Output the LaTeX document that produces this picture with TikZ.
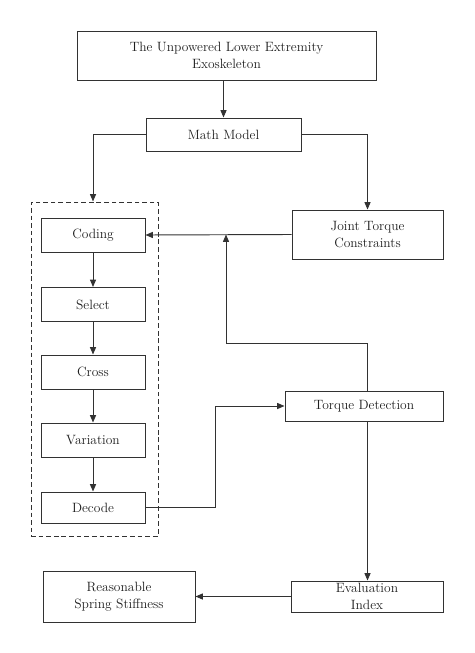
\documentclass[tikz,border=0pt]{standalone}
\usepackage{tikz}
\usetikzlibrary{arrows.meta,positioning,calc}
\definecolor{linegray}{RGB}{50, 50, 50}
\definecolor{textgray}{RGB}{30, 30, 30}
\begin{document}
\begin{tikzpicture}[
    x=0.03cm, y=-0.03cm,
    font=\fontsize{11.5}{14.2}\selectfont,
    block/.style={
      rectangle,
      draw=linegray,
      line width=0.8pt,
      text=textgray,
      align=center,
      inner sep=1pt
    },
    block_step/.style={
      block,
      minimum width=3.12cm,
      minimum height=1.02cm
    },
    group/.style={
      rectangle,
      draw=linegray,
      line width=0.8pt,
      dashed,
      dash pattern=on 4pt off 2.5pt,
      minimum width=3.81cm,
      minimum height=10.02cm
    },
    line/.style={draw=linegray, line width=0.8pt, -{Triangle[length=2.2mm,width=1.8mm]}}
  ]
  \useasboundingbox (0,0) rectangle (474,653);

  % Nodes
  \node [block, minimum width=8.97cm, minimum height=1.47cm] (exo) at (226.5,55.5) {The Unpowered Lower Extremity\\Exoskeleton};
  \node [block, minimum width=4.65cm, minimum height=0.99cm] (math) at (223.5,134.5) {Math Model};

  \node [group] (ga) at (94.5,369) {};
  \node [block_step] (coding) at (93,235) {Coding};
  \node [block_step] (select) at (93,304.5) {Select};
  \node [block_step] (cross) at (93,372) {Cross};
  \node [block_step] (variation) at (93,440) {Variation};
  \node [block_step, minimum height=0.93cm] (decode) at (93,507.5) {Decode};

  \node [block, minimum width=4.53cm, minimum height=1.47cm] (joint) at (367.5,234.5) {Joint Torque\\Constraints};
  \node [block, minimum width=4.74cm, minimum height=0.9cm] (torque) at (364,406) {Torque Detection};
  \node [block, minimum width=4.56cm, minimum height=0.93cm] (eval) at (367,596.5) {Evaluation\\Index};
  \node [block, minimum width=4.56cm, minimum height=1.53cm] (reason) at (119,596.5) {Reasonable\\Spring Stiffness};

  \coordinate (decodeout) at (215,507.5);
  \coordinate (feedback) at (226,343);

  % Arrows
  \draw[line] (exo.south -| math.north) -- (math.north);
  \draw[line] (math.west) -| (ga.north -| coding.north);
  \draw[line] (math.east) -| (joint.north);
  \draw[line] (joint.west) -- (coding.east);
  \draw[line] (coding) -- (select);
  \draw[line] (select) -- (cross);
  \draw[line] (cross) -- (variation);
  \draw[line] (variation) -- (decode);
  \draw[line] (decode.east) -- (decodeout) |- (torque.west);
  \draw[line] (torque.north -| joint.south) |- (feedback) -- (feedback |- joint.west);
  \draw[line] (torque.south -| joint.south) -- (eval.north -| joint.south);
  \draw[line] (eval) -- (reason);

\end{tikzpicture}
\end{document}
